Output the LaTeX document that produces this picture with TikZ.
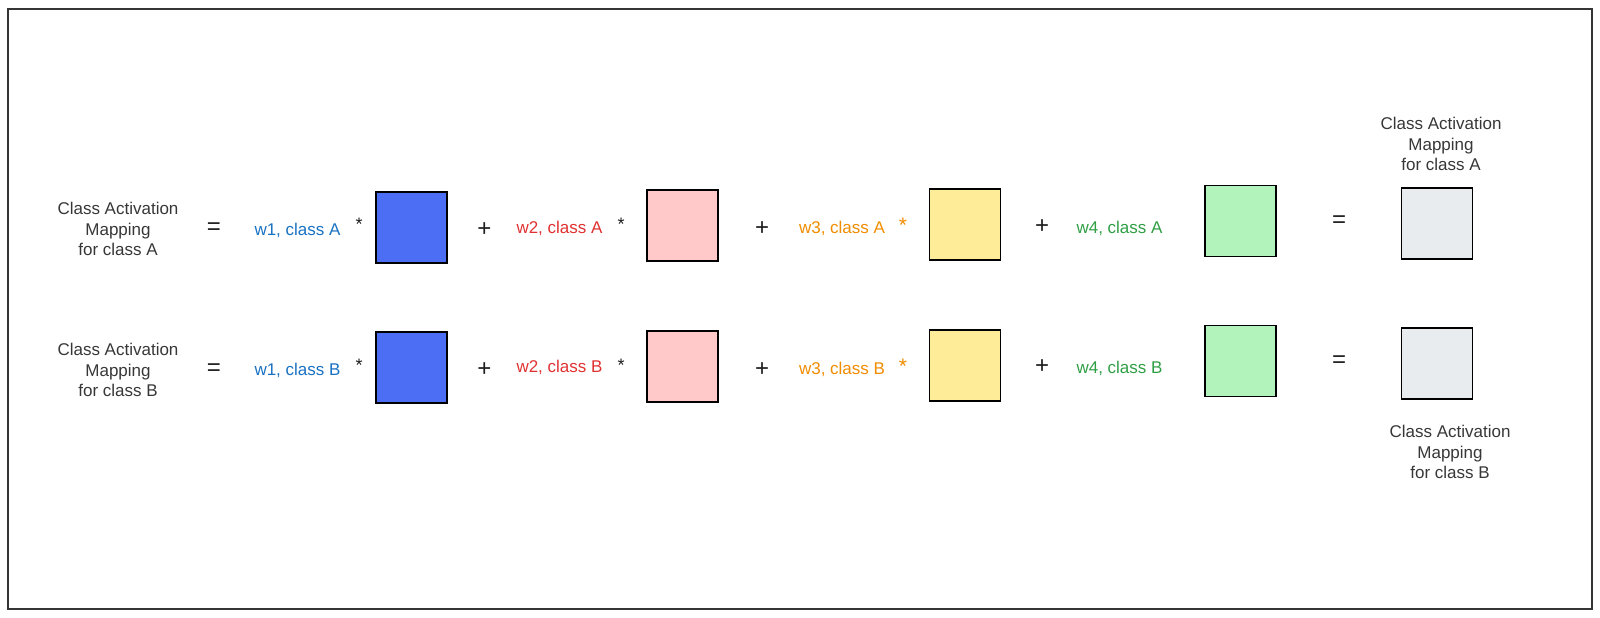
\documentclass[tikz,border=0pt]{standalone}
\usepackage{fontspec}
\setmainfont{Liberation Sans}
\usetikzlibrary{positioning}
\definecolor{inkgray}{RGB}{30,30,30}
\definecolor{labelgray}{RGB}{55,55,55}
\definecolor{wblue}{HTML}{1971C2}
\definecolor{wred}{HTML}{E03131}
\definecolor{worange}{HTML}{F08C00}
\definecolor{wgreen}{HTML}{2F9E44}
\definecolor{fillblue}{HTML}{4C6EF5}
\definecolor{fillpink}{HTML}{FFC9C9}
\definecolor{fillyellow}{HTML}{FFEC99}
\definecolor{fillgreen}{HTML}{B2F2BB}
\definecolor{fillgray}{HTML}{E9ECEF}

\begin{document}
\begin{tikzpicture}[
        x=1pt, y=-1pt,
        every node/.style={font=\fontsize{17}{20.5}\selectfont, text=inkgray},
        fmap/.style={rectangle, draw=black, line width=1.4pt, minimum size=71pt, inner sep=0pt},
        op/.style={inner sep=0pt, font=\fontsize{24}{28}\selectfont},
        times/.style={inner sep=0pt, font=\fontsize{18}{20}\selectfont},
        weight/.style={anchor=base, inner sep=0pt},
        caption/.style={align=center, inner sep=0pt, text=labelgray}
    ]
        \useasboundingbox (0,0) rectangle (1600,618);
        \draw[draw=inkgray!90, line width=2pt] (8,9) rectangle (1592,609);

        % row for class A
        \node[caption] (camlabelA) at (118,229) {Class Activation\\Mapping\\for class A};
        \node[op] (eqA) at (214,228.5) {=};
        \node[weight, text=wblue] (wA1) at (297.5,235) {w1, class A};
        \node[times] (mulA1) at (359,224) {*};
        \node[fmap, fill=fillblue] (mapA1) at (411.5,227.5) {};
        \node[op] (plusA1) at (484.5,229.5) {+};
        \node[weight, text=wred] (wA2) at (559.5,233) {w2, class A};
        \node[times] (mulA2) at (621,224) {*};
        \node[fmap, fill=fillpink] (mapA2) at (682.5,225.5) {};
        \node[op] (plusA2) at (762,229) {+};
        \node[weight, text=worange] (wA3) at (842,233) {w3, class A};
        \node[times, text=worange, font=\fontsize{21}{24}\selectfont] (mulA3) at (903,225) {*};
        \node[fmap, fill=fillyellow] (mapA3) at (965,224.5) {};
        \node[op] (plusA3) at (1042,227) {+};
        \node[weight, text=wgreen] (wA4) at (1119.5,233) {w4, class A};
        \node[fmap, fill=fillgreen] (mapA4) at (1240.5,221) {};
        \node[op] (eqA2) at (1339,222) {=};
        \node[fmap, fill=fillgray] (camA) at (1437,223.5) {};
        \node[caption] (camcapA) at (1441,144) {Class Activation\\Mapping\\for class A};

        % row for class B
        \node[caption] (camlabelB) at (118,370) {Class Activation\\Mapping\\for class B};
        \node[op] (eqB) at (214,369.5) {=};
        \node[weight, text=wblue] (wB1) at (297.5,375) {w1, class B};
        \node[times] (mulB1) at (359,365) {*};
        \node[fmap, fill=fillblue] (mapB1) at (411.5,367.5) {};
        \node[op] (plusB1) at (484.5,370) {+};
        \node[weight, text=wred] (wB2) at (559.5,372) {w2, class B};
        \node[times] (mulB2) at (621,365) {*};
        \node[fmap, fill=fillpink] (mapB2) at (682.5,366.5) {};
        \node[op] (plusB2) at (762,370) {+};
        \node[weight, text=worange] (wB3) at (842,374) {w3, class B};
        \node[times, text=worange, font=\fontsize{21}{24}\selectfont] (mulB3) at (903,366) {*};
        \node[fmap, fill=fillyellow] (mapB3) at (965,365.5) {};
        \node[op] (plusB3) at (1042,367) {+};
        \node[weight, text=wgreen] (wB4) at (1119.5,373) {w4, class B};
        \node[fmap, fill=fillgreen] (mapB4) at (1240.5,361) {};
        \node[op] (eqB2) at (1339,362) {=};
        \node[fmap, fill=fillgray] (camB) at (1437,363.5) {};
        \node[caption] (camcapB) at (1450,452) {Class Activation\\Mapping\\for class B};
    \end{tikzpicture}
\end{document}
